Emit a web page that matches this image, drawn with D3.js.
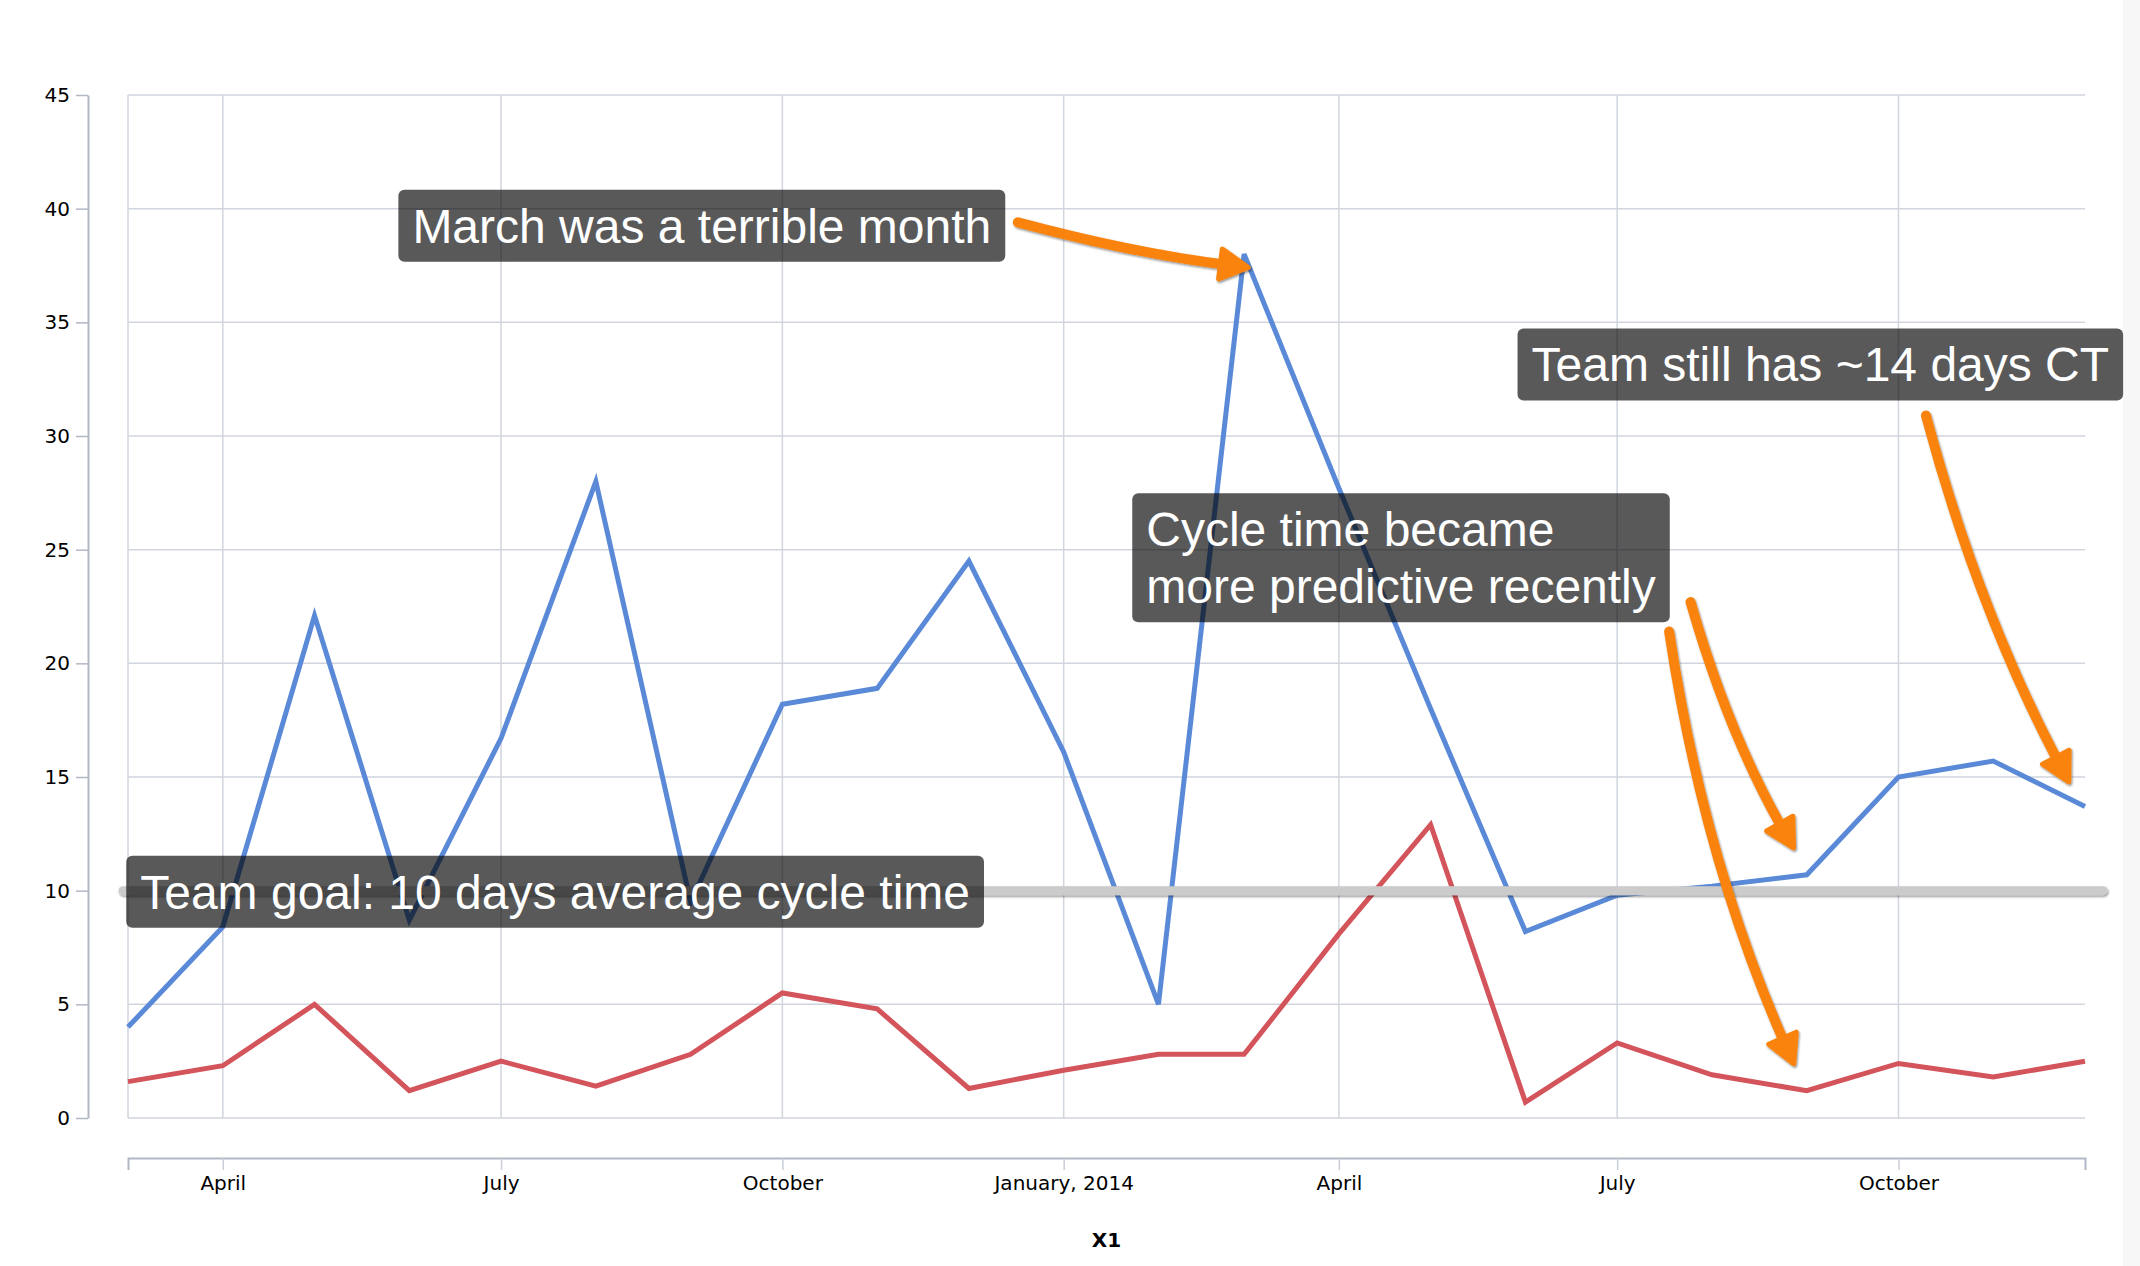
<!DOCTYPE html>
<html>
<head>
<meta charset="utf-8">
<script src="https://cdn.jsdelivr.net/npm/d3@7"></script>
<style>
  html, body { margin: 0; padding: 0; background: #fff; }
  svg { display: block; }
  .tick text { font-family: "DejaVu Sans", sans-serif; font-size: 20px; fill: #000; }
  .note text { font-family: "Liberation Sans", Arial, sans-serif; font-size: 48px; fill: #fff; }
</style>
</head>
<body>
<svg id="chart" width="2140" height="1266"></svg>
<script>
// monthly points, Mar 2013 .. Dec 2014
const months = ["2013-03", "2013-04", "2013-05", "2013-06", "2013-07", "2013-08", "2013-09", "2013-10",
    "2013-11", "2013-12", "2014-01", "2014-02", "2014-03", "2014-04", "2014-05", "2014-06",
    "2014-07", "2014-08", "2014-09", "2014-10", "2014-11", "2014-12"];
const cycleTime = [4.0, 8.4, 22.1, 8.7, 16.7, 28.0, 9.5, 18.2, 18.9, 24.5, 16.1, 5.0,
    38.0, 27.7, 18.0, 8.2, 9.8, 10.2, 10.7, 15.0, 15.7, 13.7];
const secondSeries = [1.6, 2.3, 5.0, 1.2, 2.5, 1.4, 2.8, 5.5, 4.8, 1.3, 2.1, 2.8,
    2.8, 8.1, 12.9, 0.7, 3.3, 1.9, 1.2, 2.4, 1.8, 2.5];
const yTicks = [0, 5, 10, 15, 20, 25, 30, 35, 40, 45];
const xTicks = ["2013-04", "2013-07", "2013-10", "2014-01", "2014-04", "2014-07", "2014-10"];
const xDomain = ["2013-03", "2014-12"];
const goalValue = 10;
const xTitle = "X1";

// notes: text anchor (left, baseline) in data space
const notes = [
    { lines: ["March was a terrible month"], date: "2013-06-02", value: 38.5 },
    { lines: ["Cycle time became", "more predictive recently"], date: "2014-01-28", value: 25.15 },
    { lines: ["Team still has ~14 days CT"], date: "2014-06-03", value: 32.4 },
    { lines: ["Team goal: 10 days average cycle time"], date: "2013-03-05", value: 9.2 }
];
const arrows = [
    { from: ["2013-12-17", 39.4], to: ["2014-03-03", 37.4], bend: 8 },
    { from: ["2014-07-25", 22.7], to: ["2014-08-28", 11.8], bend: 16 },
    { from: ["2014-07-18", 21.4], to: ["2014-08-28", 2.3], bend: 30 },
    { from: ["2014-10-10", 30.9], to: ["2014-11-26", 14.7], bend: 22 }
];

const parseMonth = d3.timeParse("%Y-%m");
const parseDay = d3.timeParse("%Y-%m-%d");
const Grid = { color: "#d1d5de", thickness: 1.5 };
const axisColor = "#b2b7c4";
const blue = "#5a8ad7", red = "#d3545a", orange = "#f9830c";

const svg = d3.select("#chart");
const plot = { left: 128, right: 2085, top: 95, bottom: 1118 };

const x = d3.scaleTime().domain(xDomain.map(parseMonth)).range([plot.left, plot.right]);
const y = d3.scaleLinear().domain([0, 45]).range([plot.bottom, plot.top]);

// shadow filter in user space so it also works on the flat goal line
const defs = svg.append("defs");
defs.append("filter").attr("id", "shadow")
    .attr("filterUnits", "userSpaceOnUse")
    .attr("x", 0).attr("y", 0).attr("width", 2140).attr("height", 1266)
    .append("feDropShadow")
    .attr("dx", 1).attr("dy", 1.5).attr("stdDeviation", 1.2)
    .attr("flood-color", "#000").attr("flood-opacity", 0.45);

// faint strip at right edge
svg.append("rect").attr("x", 2123).attr("y", 0).attr("width", 17).attr("height", 1266).attr("fill", "#f7f7f7");

// grid
const grid = svg.append("g").attr("class", "chart-grid");
grid.selectAll(".hgrid").data(yTicks).join("line")
    .attr("x1", plot.left).attr("x2", plot.right)
    .attr("y1", d => y(d)).attr("y2", d => y(d))
    .attr("stroke", Grid.color).attr("stroke-width", Grid.thickness);
grid.selectAll(".vgrid").data([xDomain[0]].concat(xTicks).map(parseMonth)).join("line")
    .attr("x1", d => x(d)).attr("x2", d => x(d))
    .attr("y1", plot.top).attr("y2", plot.bottom)
    .attr("stroke", Grid.color).attr("stroke-width", Grid.thickness);

// y axis
const yAxis = svg.append("g")
    .attr("transform", "translate(88,0)")
    .call(d3.axisLeft(y).tickValues(yTicks).tickSize(12).tickSizeOuter(0).tickPadding(6));
yAxis.select(".domain").attr("stroke", axisColor).attr("stroke-width", 2);
yAxis.selectAll(".tick line").attr("stroke", axisColor).attr("stroke-width", 1.5);

// x axis
const fmtMonth = d3.timeFormat("%B"), fmtYear = d3.timeFormat("%B, %Y");
const xAxis = svg.append("g")
    .attr("transform", "translate(0,1158)")
    .call(d3.axisBottom(x).tickValues(xTicks.map(parseMonth)).tickSize(12).tickSizeOuter(12).tickPadding(6)
        .tickFormat(d => d.getMonth() === 0 ? fmtYear(d) : fmtMonth(d)));
xAxis.select(".domain").attr("stroke", axisColor).attr("stroke-width", 2);
xAxis.selectAll(".tick line").attr("stroke", "#c9cdd6").attr("stroke-width", 1.5);

svg.append("text")
    .attr("x", (plot.left + plot.right) / 2).attr("y", 1247)
    .attr("text-anchor", "middle")
    .style("font-family", "DejaVu Sans, sans-serif").style("font-size", "20px").style("font-weight", "bold")
    .text(xTitle);

// series lines
const dates = months.map(parseMonth);
const line = d3.line().x((d, i) => x(dates[i])).y(d => y(d));
[[cycleTime, blue], [secondSeries, red]].forEach(([vals, col]) => {
    svg.append("path").datum(vals)
        .attr("d", line)
        .attr("fill", "none")
        .attr("stroke", col)
        .attr("stroke-width", 5)
        .attr("stroke-linejoin", "miter");
});

// goal line
svg.append("line")
    .attr("x1", plot.left - 5).attr("x2", plot.right + 18)
    .attr("y1", y(goalValue)).attr("y2", y(goalValue))
    .attr("stroke", "#cbcbcb").attr("stroke-width", 9).attr("stroke-linecap", "round")
    .attr("filter", "url(#shadow)");

// note boxes
const pad = { l: 14, r: 14, t: 10, b: 9 };
notes.forEach(n => {
    const g = svg.append("g").attr("class", "note");
    const tx = x(parseDay(n.date)), ty = y(n.value);
    const rect = g.append("rect");
    const t = g.append("text").attr("x", tx).attr("y", ty);
    n.lines.forEach((l, i) => t.append("tspan").attr("x", tx).attr("dy", i === 0 ? 0 : 57).text(l));
    const bb = t.node().getBBox();
    rect.attr("x", bb.x - pad.l).attr("y", bb.y - pad.t)
        .attr("width", bb.width + pad.l + pad.r).attr("height", bb.height + pad.t + pad.b)
        .attr("rx", 6).attr("fill", "#000").attr("fill-opacity", 0.65);
});

// arrows
arrows.forEach(a => {
    const s = { x: x(parseDay(a.from[0])), y: y(a.from[1]) };
    const e = { x: x(parseDay(a.to[0])), y: y(a.to[1]) };
    const dx = e.x - s.x, dy = e.y - s.y, len = Math.hypot(dx, dy);
    const c = { x: (s.x + e.x) / 2 - dy / len * a.bend, y: (s.y + e.y) / 2 + dx / len * a.bend };
    const ul = Math.hypot(e.x - c.x, e.y - c.y);
    const u = { x: (e.x - c.x) / ul, y: (e.y - c.y) / ul };
    const L = 30, W = 15;
    const b = { x: e.x - u.x * L, y: e.y - u.y * L };
    const g = svg.append("g").attr("filter", "url(#shadow)");
    g.append("path")
        .attr("d", `M${s.x},${s.y} Q${c.x},${c.y} ${b.x + u.x * 4},${b.y + u.y * 4}`)
        .attr("fill", "none").attr("stroke", orange).attr("stroke-width", 10).attr("stroke-linecap", "round");
    const p = { x: -u.y, y: u.x };
    g.append("path")
        .attr("d", `M${e.x - u.x * 2},${e.y - u.y * 2} L${b.x + p.x * W},${b.y + p.y * W} L${b.x - p.x * W},${b.y - p.y * W} Z`)
        .attr("fill", orange).attr("stroke", orange).attr("stroke-width", 5).attr("stroke-linejoin", "round");
});
</script>
</body>
</html>
